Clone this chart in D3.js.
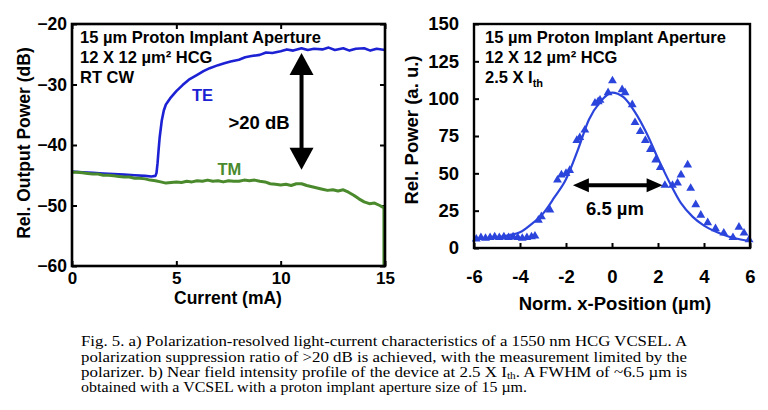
<!DOCTYPE html>
<html>
<head>
<meta charset="utf-8">
<script src="https://cdn.jsdelivr.net/npm/d3@7"></script>
<style>
body { margin: 0; background: #fff; }
svg text { font-family: "Liberation Sans", Arial, sans-serif; font-weight: bold; fill: #000; }
svg text.caption { font-family: "Liberation Serif", "Times New Roman", serif; font-weight: normal; font-size: 15px; }
</style>
</head>
<body>
<svg id="fig" width="768" height="410"></svg>
<script>

// a) L-I curves, TE and TM polarisation
var teCurrent = [0, 0.5, 1, 1.5, 2, 2.5, 3, 3.5, 3.8, 4.0, 4.05, 4.1, 4.15, 4.2, 4.3, 4.4, 4.5, 4.7, 5.0, 5.3,
	5.6, 6.0, 6.3, 6.6, 7.0, 7.3, 7.6, 8.0, 8.3, 8.6, 9.0, 9.3, 9.6, 10.0, 10.3, 10.6, 11.0, 11.3, 11.6, 12.0,
	12.3, 12.6, 13.0, 13.3, 13.6, 14.0, 14.3, 14.6, 15.0];
var tePower = [-44.4, -44.5, -44.6, -44.7, -44.8, -44.9, -45.0, -45.1, -45.2, -45.1, -44.6, -43.0, -40.8, -38.8, -36.0, -34.3, -33.3, -32.3, -31.1, -30.1,
	-29.2, -28.4, -27.8, -27.3, -26.8, -26.5, -26.2, -25.9, -25.5, -25.3, -25.1, -24.7, -24.8, -24.5, -24.2, -24.4, -24.0, -24.3, -24.1, -24.2,
	-23.9, -24.3, -24.0, -24.4, -24.1, -24.0, -24.4, -24.1, -24.3];

var tmCurrent = [0, 0.25, 0.5, 0.75, 1, 1.25, 1.5, 1.75, 2, 2.25, 2.5, 2.75, 3, 3.25, 3.5, 3.75, 4, 4.25, 4.5, 4.75,
	5, 5.25, 5.5, 5.75, 6, 6.25, 6.5, 6.75, 7, 7.25, 7.5, 7.75, 8, 8.25, 8.5, 8.75, 9, 9.25, 9.5, 9.75,
	10, 10.25, 10.5, 10.75, 11, 11.25, 11.5, 11.75, 12, 12.25, 12.5, 12.75, 13, 13.25, 13.5, 13.75, 14, 14.25, 14.5, 14.75,
	14.95, 14.95];
var tmPower = [-44.5, -44.5, -44.6, -44.7, -44.8, -44.8, -45.0, -45.0, -45.1, -45.2, -45.3, -45.3, -45.5, -45.5, -45.6, -45.8, -45.9, -46.1, -46.3, -46.2,
	-46.1, -46.2, -46.0, -46.1, -45.9, -46.0, -45.8, -46.0, -45.9, -46.1, -45.9, -46.0, -46.0, -45.8, -45.9, -45.8, -46.0, -46.1, -46.4, -46.5,
	-46.6, -46.5, -46.7, -46.4, -46.4, -46.7, -46.9, -47.1, -47.3, -47.5, -47.4, -47.6, -47.4, -47.8, -48.3, -48.9, -49.4, -49.7, -49.6, -50.0,
	-50.4, -60];

// b) near field profile, measured points and fit
var profX = [-5.9, -5.7, -5.5, -5.3, -5.1, -4.9, -4.7, -4.5, -4.3, -4.1, -3.9, -3.7, -3.5, -3.35,
	-3.2, -3.07, -2.7, -2.37, -2.2, -2.0, -1.84, -1.53, -1.4, -1.18, -0.74, -0.6, -0.52, -0.17, 0.02,
	0.44, 0.57, 0.88, 1.0, 1.23, 1.45, 1.67, 1.9, 2.1, 2.3, 2.63, 2.85, 3.0, 3.29, 3.42, 3.64, 3.86,
	4.16, 4.5, 4.86, 5.26, 5.52, 5.74, 5.96];
var profY = [6, 7, 6.5, 7, 7.5, 7, 7.5, 7, 7.5, 7, 6.5, 7, 7.5, 8,
	18.7, 21, 25.5, 45.5, 49, 50, 52, 72, 74, 79, 97, 98, 99, 104, 112,
	106, 104, 96, 84, 78, 72, 66, 59, 54, 42, 42, 43.5, 49, 55.6, 40, 29, 22,
	17, 13, 10, 7, 14, 10, 5.5];

var fitX = [-6, -5.5, -5, -4.5, -4, -3.5, -3, -2.5, -2, -1.5, -1, -0.5, 0, 0.5, 1, 1.5, 2, 2.5, 3, 3.5, 4, 4.5, 5, 5.5, 6];
var fitY = [6, 6.2, 7, 8.5, 10.5, 16, 23, 34, 46, 65, 86, 98, 104, 101, 91, 77, 60, 44, 30, 21, 15, 11, 8, 6, 4.5];

// ticks
var leftXTicks = [0, 5, 10, 15];
var leftYTicks = [-60, -50, -40, -30, -20];
var rightXTicks = [-6, -4, -2, 0, 2, 4, 6];
var rightYTicks = [0, 25, 50, 75, 100, 125, 150];

var caption = [
	"Fig. 5. a) Polarization-resolved light-current characteristics of a 1550 nm HCG VCSEL. A",
	"polarization suppression ratio of >20 dB is achieved, with the measurement limited by the",
	"polarizer. b) Near field intensity profile of the device at 2.5 X I",
	"obtained with a VCSEL with a proton implant aperture size of 15 \u00b5m."
];

var teColor = "#1c22d4",
	tmColor = "#4a8a2c",
	profColor = "#2b44dc";

var svg = d3.select("#fig");

/*
 * Left panel
 */
var xL = d3.scaleLinear().domain([0, 15]).range([72, 385]);
var yL = d3.scaleLinear().domain([-60, -20]).range([266, 24]);

var gL = svg.append("g");

gL.append("g").attr("transform", "translate(0,266)")
	.call(d3.axisBottom(xL).tickValues(leftXTicks).tickSize(-5).tickPadding(6))
	.call(styleAxis, 17);
gL.append("g").attr("transform", "translate(0,24)")
	.call(d3.axisTop(xL).tickValues(leftXTicks).tickSize(-5).tickFormat(""))
	.call(styleAxis, 17);
gL.append("g").attr("transform", "translate(72,0)")
	.call(d3.axisLeft(yL).tickValues(leftYTicks).tickSize(-5).tickPadding(5))
	.call(styleAxis, 17.5);
gL.append("g").attr("transform", "translate(385,0)")
	.call(d3.axisRight(yL).tickValues(leftYTicks).tickSize(-5).tickFormat(""))
	.call(styleAxis, 17);

var line = d3.line()
	.x(function(d) { return xL(d[0]); })
	.y(function(d) { return yL(d[1]); });

gL.append("path")
	.datum(d3.zip(teCurrent, tePower))
	.attr("d", line)
	.attr("fill", "none")
	.attr("stroke", teColor)
	.attr("stroke-width", 2.6)
	.attr("stroke-linejoin", "round");

gL.append("path")
	.datum(d3.zip(tmCurrent, tmPower))
	.attr("d", line)
	.attr("fill", "none")
	.attr("stroke", tmColor)
	.attr("stroke-width", 3)
	.attr("stroke-linejoin", "round");

gL.append("rect")
	.attr("x", 72).attr("y", 24)
	.attr("width", 313).attr("height", 242)
	.attr("fill", "none").attr("stroke", "#000").attr("stroke-width", 2.6);

noteBlock(gL, 80, 43, ["15 \u00b5m Proton Implant Aperture", "12 X 12 \u00b5m\u00b2 HCG", "RT CW"]);

gL.append("text").attr("x", xL(5.75)).attr("y", yL(-32.7))
	.style("font-size", "16.5px").style("fill", teColor).text("TE");
gL.append("text").attr("x", xL(6.97)).attr("y", yL(-45))
	.style("font-size", "16.5px").style("fill", tmColor).text("TM");
gL.append("text").attr("x", xL(7.5)).attr("y", yL(-37.3))
	.style("font-size", "18.5px").text(">20 dB");

vArrow(gL, xL(11), yL(-24.8), yL(-44.1));

gL.append("text")
	.attr("transform", "translate(30,143) rotate(-90)")
	.attr("text-anchor", "middle")
	.style("font-size", "17.5px")
	.text("Rel. Output Power (dB)");
gL.append("text")
	.attr("x", 228).attr("y", 304)
	.attr("text-anchor", "middle")
	.style("font-size", "17.5px")
	.text("Current (mA)");

/*
 * Right panel
 */
var xR = d3.scaleLinear().domain([-6, 6]).range([474, 750]);
var yR = d3.scaleLinear().domain([0, 150]).range([248, 24]);

var gR = svg.append("g");

gR.append("g").attr("transform", "translate(0,248)")
	.call(d3.axisBottom(xR).tickValues(rightXTicks).tickSize(-5).tickPadding(22)
		.tickFormat(function(d) { return String(d); }))
	.call(styleAxis, 18.5);
gR.append("g").attr("transform", "translate(474,0)")
	.call(d3.axisLeft(yR).tickValues(rightYTicks).tickSize(-5).tickPadding(15))
	.call(styleAxis, 18.5);

gR.append("path")
	.datum(d3.zip(fitX, fitY))
	.attr("d", d3.line()
		.x(function(d) { return xR(d[0]); })
		.y(function(d) { return yR(d[1]); })
		.curve(d3.curveMonotoneX))
	.attr("fill", "none")
	.attr("stroke", profColor)
	.attr("stroke-width", 2.2);

gR.append("g").selectAll("path")
	.data(d3.zip(profX, profY))
	.enter().append("path")
		.attr("transform", function(d) { return "translate(" + xR(d[0]) + "," + yR(d[1]) + ")"; })
		.attr("d", d3.symbol(d3.symbolTriangle, 34))
		.attr("fill", profColor);

gR.append("rect")
	.attr("x", 474).attr("y", 24)
	.attr("width", 276).attr("height", 224)
	.attr("fill", "none").attr("stroke", "#000").attr("stroke-width", 2.4);

noteBlock(gR, 485, 43, ["15 \u00b5m Proton Implant Aperture", "12 X 12 \u00b5m\u00b2 HCG", ""]);
var ith = gR.append("text").attr("x", 485).attr("y", 83).style("font-size", "16.5px");
ith.append("tspan").text("2.5 X I");
ith.append("tspan").attr("dy", 4).style("font-size", "11px").text("th");

hArrow(gR, xR(-1.7), xR(2.2), yR(42));
gR.append("text").attr("x", xR(0.13)).attr("y", yR(22))
	.attr("text-anchor", "middle")
	.style("font-size", "18.5px")
	.text("6.5 \u00b5m");

gR.append("text")
	.attr("transform", "translate(418,130) rotate(-90)")
	.attr("text-anchor", "middle")
	.style("font-size", "18.5px")
	.text("Rel. Power (a. u.)");
gR.append("text")
	.attr("x", 615).attr("y", 310)
	.attr("text-anchor", "middle")
	.style("font-size", "18.5px")
	.text("Norm. x-Position (\u00b5m)");

/*
 * Caption
 */
var capWidths = [606, 606, 606, 446];
var capBase = [346, 361.5, 377, 392];
caption.forEach(function(s, i) {
	var t = svg.append("text").attr("class", "caption")
		.attr("x", 81).attr("y", capBase[i])
		.attr("textLength", capWidths[i]).attr("lengthAdjust", "spacingAndGlyphs");
	t.append("tspan").text(s);
	if(i === 2) {
		t.append("tspan").attr("dy", 2).style("font-size", "10px").text("th");
		t.append("tspan").attr("dy", -2).text(". A FWHM of ~6.5 \u00b5m is");
	}
});

/*
 * Helpers
 */
function styleAxis(g, size) {
	g.select(".domain").remove();
	g.selectAll(".tick line").attr("stroke", "#000").attr("stroke-width", 2);
	g.selectAll(".tick text")
		.style("font-family", "'Liberation Sans', Arial, sans-serif")
		.style("font-weight", "bold")
		.style("font-size", size + "px")
		.attr("fill", "#000");
}

function noteBlock(g, x, y, lines) {
	lines.forEach(function(s, i) {
		g.append("text").attr("x", x).attr("y", y + i * 20)
			.style("font-size", "16.5px").text(s);
	});
}

function vArrow(g, x, y1, y2) {
	var hw = 12, hh = 22;
	g.append("line").attr("x1", x).attr("x2", x)
		.attr("y1", y1 + hh - 2).attr("y2", y2 - hh + 2)
		.attr("stroke", "#000").attr("stroke-width", 4);
	g.append("path").attr("d", "M" + x + "," + y1 + "L" + (x - hw) + "," + (y1 + hh) + "L" + (x + hw) + "," + (y1 + hh) + "Z");
	g.append("path").attr("d", "M" + x + "," + y2 + "L" + (x - hw) + "," + (y2 - hh) + "L" + (x + hw) + "," + (y2 - hh) + "Z");
}

function hArrow(g, x1, x2, y) {
	var hw = 7, hl = 16;
	g.append("line").attr("x1", x1 + hl - 2).attr("x2", x2 - hl + 2)
		.attr("y1", y).attr("y2", y)
		.attr("stroke", "#000").attr("stroke-width", 4);
	g.append("path").attr("d", "M" + x1 + "," + y + "L" + (x1 + hl) + "," + (y - hw) + "L" + (x1 + hl) + "," + (y + hw) + "Z");
	g.append("path").attr("d", "M" + x2 + "," + y + "L" + (x2 - hl) + "," + (y - hw) + "L" + (x2 - hl) + "," + (y + hw) + "Z");
}
</script>
</body>
</html>
